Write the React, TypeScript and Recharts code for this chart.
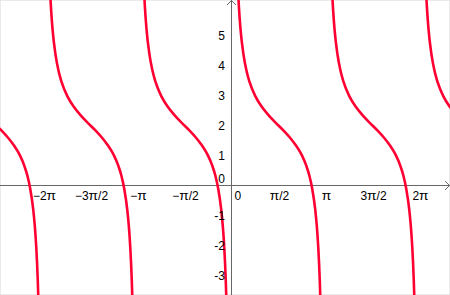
import React from 'react';
import {
  LineChart,
  Line,
  XAxis,
  YAxis,
  CartesianGrid,
  ReferenceLine,
  ReferenceDot,
} from 'recharts';

const PI = Math.PI;

// Axis ticks (multiples of pi/2 on x, integers on y)
const xTickValues = [-2 * PI, -1.5 * PI, -PI, -0.5 * PI, 0, 0.5 * PI, PI, 1.5 * PI, 2 * PI];
const xTickLabels = ['−2π', '−3π/2', '−π', '−π/2', '0', 'π/2', 'π', '3π/2', '2π'];
const yTickValues = [-3, -2, -1, 0, 1, 2, 3, 4, 5, 6];
const yTickLabels = ['-3', '-2', '-1', '0', '1', '2', '3', '4', '5', ''];

const X_DOMAIN: [number, number] = [-7.737, 7.303];
const Y_DOMAIN: [number, number] = [-3.65, 6.183];

// Curve branches (one per period between asymptotes)
const branch1X = [-8.025, -7.855, -7.675, -7.475, -7.275, -7.075, -6.925, -6.825, -6.725, -6.625, -6.575, -6.525, -6.475, -6.45, -6.425];
const branch1Y = [2.17, 2.0, 1.82, 1.6, 1.34, 1.01, 0.66, 0.34, -0.12, -0.81, -1.33, -2.06, -3.15, -3.95, -5.02];

const branch2X = [-6.133, -6.083, -6.033, -5.983, -5.883, -5.783, -5.683, -5.483, -5.283, -5.083, -4.883, -4.713, -4.533, -4.333, -4.133, -3.933, -3.783, -3.683, -3.583, -3.483, -3.433, -3.383, -3.333, -3.308, -3.283];
const branch2Y = [8.62, 6.93, 5.92, 5.23, 4.37, 3.83, 3.46, 2.97, 2.64, 2.39, 2.17, 2.0, 1.82, 1.6, 1.34, 1.01, 0.66, 0.34, -0.12, -0.81, -1.33, -2.06, -3.15, -3.95, -5.02];

const branch3X = [-2.992, -2.942, -2.892, -2.842, -2.742, -2.642, -2.542, -2.342, -2.142, -1.942, -1.742, -1.572, -1.392, -1.192, -0.992, -0.792, -0.642, -0.542, -0.442, -0.342, -0.292, -0.242, -0.192, -0.167, -0.142];
const branch3Y = [8.62, 6.93, 5.92, 5.23, 4.37, 3.83, 3.46, 2.97, 2.64, 2.39, 2.17, 2.0, 1.82, 1.6, 1.34, 1.01, 0.66, 0.34, -0.12, -0.81, -1.33, -2.06, -3.15, -3.95, -5.02];

const branch4X = [0.15, 0.2, 0.25, 0.3, 0.4, 0.5, 0.6, 0.8, 1.0, 1.2, 1.4, 1.57, 1.75, 1.95, 2.15, 2.35, 2.5, 2.6, 2.7, 2.8, 2.85, 2.9, 2.95, 2.975, 3.0];
const branch4Y = [8.62, 6.93, 5.92, 5.23, 4.37, 3.83, 3.46, 2.97, 2.64, 2.39, 2.17, 2.0, 1.82, 1.6, 1.34, 1.01, 0.66, 0.34, -0.12, -0.81, -1.33, -2.06, -3.15, -3.95, -5.02];

const branch5X = [3.292, 3.342, 3.392, 3.442, 3.542, 3.642, 3.742, 3.942, 4.142, 4.342, 4.542, 4.712, 4.892, 5.092, 5.292, 5.492, 5.642, 5.742, 5.842, 5.942, 5.992, 6.042, 6.092, 6.117, 6.142];
const branch5Y = [8.62, 6.93, 5.92, 5.23, 4.37, 3.83, 3.46, 2.97, 2.64, 2.39, 2.17, 2.0, 1.82, 1.6, 1.34, 1.01, 0.66, 0.34, -0.12, -0.81, -1.33, -2.06, -3.15, -3.95, -5.02];

const branch6X = [6.433, 6.483, 6.533, 6.583, 6.683, 6.783, 6.883, 7.083, 7.283, 7.483];
const branch6Y = [8.62, 6.93, 5.92, 5.23, 4.37, 3.83, 3.46, 2.97, 2.64, 2.39];

const branches = [
  [branch1X, branch1Y],
  [branch2X, branch2Y],
  [branch3X, branch3Y],
  [branch4X, branch4Y],
  [branch5X, branch5Y],
  [branch6X, branch6Y],
];

const data: { x: number; y: number | null }[] = [];
branches.forEach(([xs, ys]) => {
  xs.forEach((x, i) => data.push({ x, y: ys[i] }));
  data.push({ x: xs[xs.length - 1], y: null });
});

const FONT = '"Liberation Sans", Arial, sans-serif';
const AXIS_COLOR = '#666666';
const GRID_COLOR = '#d6d6d6';
const CURVE_COLOR = '#ff0033';

const XAxisShape = (p: any) => {
  const xe = Math.max(p.x1, p.x2);
  const xs = Math.min(p.x1, p.x2);
  const y = p.y1;
  return (
    <g>
      <line x1={xs} y1={y} x2={xe} y2={y} stroke={AXIS_COLOR} strokeWidth={1} />
      <polyline
        points={`${xe - 5},${y - 4.5} ${xe - 0.5},${y} ${xe - 5},${y + 4.5}`}
        fill="none"
        stroke={AXIS_COLOR}
        strokeWidth={1}
      />
    </g>
  );
};

const YAxisShape = (p: any) => {
  const yt = Math.min(p.y1, p.y2);
  const yb = Math.max(p.y1, p.y2);
  const x = p.x1;
  return (
    <g>
      <line x1={x} y1={yt} x2={x} y2={yb} stroke={AXIS_COLOR} strokeWidth={1} />
      <polyline
        points={`${x - 4.5},${yt + 5} ${x},${yt + 0.5} ${x + 4.5},${yt + 5}`}
        fill="none"
        stroke={AXIS_COLOR}
        strokeWidth={1}
      />
    </g>
  );
};

// Render text, giving the π glyph the wider look of the reference
const renderPiText = (text: string) =>
  text.split(/(π)/).filter((s) => s !== '').map((part, i) =>
    part === 'π' ? (
      <tspan key={i} fontSize={13} textLength={9.5} lengthAdjust="spacingAndGlyphs">
        π
      </tspan>
    ) : (
      <tspan key={i}>{part}</tspan>
    )
  );

const makeXLabel = (text: string, isZero: boolean) => (props: any) => {
  const vb = props.viewBox || {};
  const cx = vb.x ?? 0;
  const cy = vb.y ?? 0;
  return (
    <text
      x={isZero ? cx + 3 : cx + 1}
      y={cy + 15}
      textAnchor={isZero ? 'start' : 'middle'}
      fontFamily={FONT}
      fontSize={12}
      fill="#000"
    >
      {renderPiText(text)}
    </text>
  );
};

const makeYLabel = (text: string, isZero: boolean) => (props: any) => {
  const vb = props.viewBox || {};
  const cx = vb.x ?? 0;
  const cy = vb.y ?? 0;
  return (
    <text
      x={cx - 6.5}
      y={isZero ? cy - 2 : cy + 5}
      textAnchor="end"
      fontFamily={FONT}
      fontSize={12}
      fill="#000"
    >
      {text}
    </text>
  );
};

export default function App() {
  return (
    <div style={{ position: 'absolute', left: 0, top: 0, width: 450, height: 295, background: '#fff' }}>
      <LineChart width={450} height={295} data={data} margin={{ top: 0, right: 0, bottom: 0, left: 0 }}>
        <CartesianGrid stroke={GRID_COLOR} strokeWidth={1} />
        <XAxis
          type="number"
          dataKey="x"
          domain={X_DOMAIN}
          ticks={xTickValues}
          allowDataOverflow
          height={0}
          tick={false}
          tickLine={false}
          axisLine={false}
        />
        <YAxis
          type="number"
          domain={Y_DOMAIN}
          ticks={yTickValues}
          allowDataOverflow
          width={0}
          tick={false}
          tickLine={false}
          axisLine={false}
        />
        <ReferenceLine y={0} shape={XAxisShape} />
        <ReferenceLine x={0} shape={YAxisShape} />
        {xTickValues.map((v, i) => (
          <ReferenceDot
            key={'xl' + i}
            x={v}
            y={0}
            r={0}
            fill="none"
            stroke="none"
            label={makeXLabel(xTickLabels[i], v === 0)}
          />
        ))}
        {yTickValues.map((v, i) =>
          yTickLabels[i] ? (
            <ReferenceDot
              key={'yl' + i}
              x={0}
              y={v}
              r={0}
              fill="none"
              stroke="none"
              label={makeYLabel(yTickLabels[i], v === 0)}
            />
          ) : null
        )}
        <Line
          type="monotone"
          dataKey="y"
          stroke={CURVE_COLOR}
          strokeWidth={2.6}
          dot={false}
          activeDot={false}
          connectNulls={false}
          isAnimationActive={false}
        />
      </LineChart>
    </div>
  );
}
